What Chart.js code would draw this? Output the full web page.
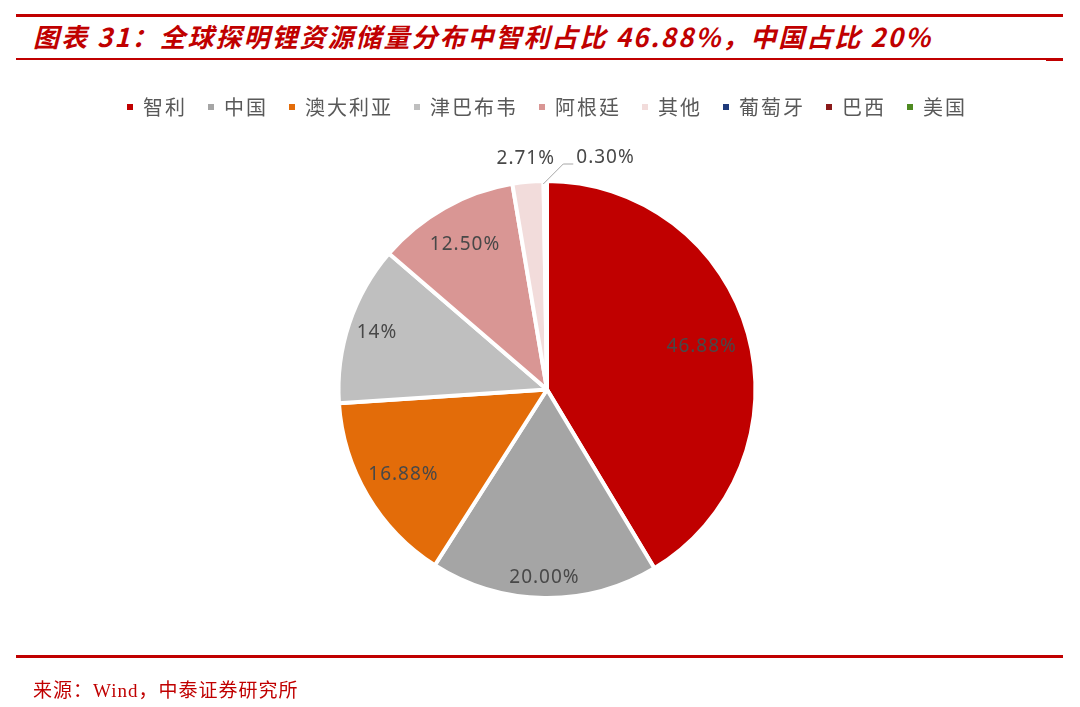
<!DOCTYPE html>
<html>
<head>
<meta charset="utf-8">
<script src="https://cdn.jsdelivr.net/npm/chart.js@4.4.1/dist/chart.umd.min.js"></script>
<style>
  html, body { margin: 0; padding: 0; background: #fff; }
  #wrap { position: relative; width: 1080px; height: 707px; overflow: hidden; }
  #c { position: absolute; left: 0; top: 0; }
  .rule { position: absolute; left: 16px; width: 1047px; background: #C00000; }
  #title {
    position: absolute; left: 33px; top: 17px; color: #C00000;
    font: italic bold 26px "Noto Sans CJK SC", "Noto Sans", sans-serif; white-space: nowrap;
    letter-spacing: 2px;
  }
  #src {
    position: absolute; left: 33px; top: 675px; color: #C00000;
    font: 19px "Liberation Serif", "Noto Sans CJK SC", serif; white-space: nowrap;
    letter-spacing: 1px;
  }
</style>
</head>
<body>
<div id="wrap">
  <div class="rule" style="top:14px;height:3px"></div>
  <div id="title">图表 31：全球探明锂资源储量分布中智利占比 46.88%，中国占比 20%</div>
  <div class="rule" style="top:58px;height:2px"></div>
  <div style="position:absolute;left:1046px;top:59px;width:17px;height:2px;background:#C00000"></div>
  <canvas id="c" width="1080" height="707"></canvas>
  <div class="rule" style="top:655px;height:3px"></div>
  <div id="src">来源：Wind，中泰证券研究所</div>
</div>
<script>
const labels = ["智利", "中国", "澳大利亚", "津巴布韦", "阿根廷", "其他", "葡萄牙", "巴西", "美国"];
const values = [46.88, 20.0, 16.88, 14, 12.5, 2.71, 0.3, 0, 0];
const valueText = ["46.88%", "20.00%", "16.88%", "14%", "12.50%", "2.71%", "0.30%", "", ""];
const colors = ["#C00000", "#A5A5A5", "#E36C09", "#BFBFBF", "#D99694", "#F2DCDB", "#1F3A7A", "#8B1A1A", "#4E8A21"];
// how far out each label sits, as a share of the radius
const labelR = [0.77, 0.9, 0.8, 0.86, 0.8, 1.11, 1.0, 0, 0];

const spacing = {
  id: "spacing",
  beforeUpdate: (ch) => (ch.ctx.letterSpacing = "2px"),
  beforeDraw: (ch) => (ch.ctx.letterSpacing = "2px"),
};

// extra room between legend and pie
const legendGap = {
  id: "legendGap",
  beforeInit(ch) {
    const fit = ch.legend.fit;
    ch.legend.fit = function () {
      fit.call(this);
      this.height += 52;
    };
  },
};

const pieLabels = {
  id: "pieLabels",
  afterDatasetsDraw(ch) {
    const ctx = ch.ctx;
    const arcs = ch.getDatasetMeta(0).data;
    ctx.save();
    ctx.letterSpacing = "1px";
    ctx.font = '19px "Noto Sans", sans-serif';
    ctx.fillStyle = "#484848";
    ctx.textBaseline = "middle";
    arcs.forEach((a, i) => {
      if (!valueText[i]) return;
      const mid = (a.startAngle + a.endAngle) / 2;
      const r = a.outerRadius * labelR[i];
      const x = a.x + Math.cos(mid) * r;
      const y = a.y + Math.sin(mid) * r;
      if (i === 6) {
        // leader line for the thin slice
        const x1 = a.x + Math.cos(mid) * a.outerRadius - 2;
        const y1 = a.y + Math.sin(mid) * a.outerRadius + 3;
        ctx.strokeStyle = "#A6A6A6";
        ctx.lineWidth = 1;
        ctx.beginPath();
        ctx.moveTo(x1, y1);
        ctx.lineTo(x1 + 20, y1 - 20);
        ctx.lineTo(x1 + 30, y1 - 20);
        ctx.stroke();
        ctx.textAlign = "left";
        ctx.fillText(valueText[i], x1 + 33, y1 - 26);
        return;
      }
      ctx.textAlign = "center";
      ctx.fillText(valueText[i], x, y);
    });
    ctx.restore();
  },
};

new Chart(document.getElementById("c"), {
  type: "pie",
  data: {
    labels,
    datasets: [{ data: values, backgroundColor: colors, borderColor: "#fff", borderWidth: 4 }],
  },
  options: {
    responsive: false,
    animation: false,
    layout: { padding: { top: 76, bottom: 107, left: 14, right: 0 } },
    plugins: {
      legend: {
        position: "top",
        labels: {
          boxWidth: 6,
          boxHeight: 6,
          padding: 21,
          color: "#595959",
          font: { size: 20, family: '"Noto Sans CJK SC", sans-serif' },
          generateLabels(ch) {
            return Chart.overrides.pie.plugins.legend.labels
              .generateLabels(ch)
              .map((l) => ({ ...l, lineWidth: 0, strokeStyle: l.fillStyle }));
          },
        },
      },
      tooltip: { enabled: false },
    },
  },
  plugins: [spacing, legendGap, pieLabels],
});
</script>
</body>
</html>
